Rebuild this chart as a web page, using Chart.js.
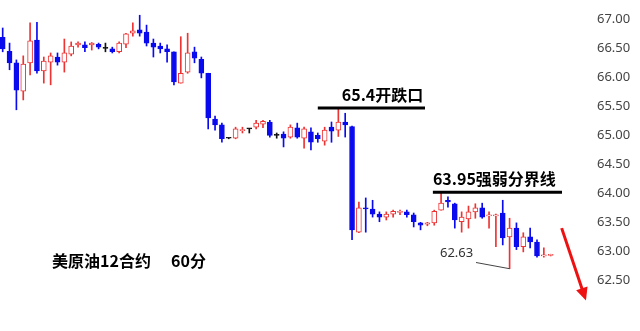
<!DOCTYPE html>
<html>
<head>
<meta charset="utf-8">
<script src="https://cdn.jsdelivr.net/npm/chart.js@4/dist/chart.umd.min.js"></script>
<style>
  html, body { margin: 0; padding: 0; background: #fff; }
</style>
</head>
<body>
<canvas id="myChart" width="640" height="331"></canvas>
<script>
// 60 minute candles
const open = [66.69,66.45,66.25,65.76,66.25,66.64,66.11,66.26,66.35,66.26,66.40,66.56,66.56,66.56,66.57,66.50,66.49,66.44,66.57,66.76,
  66.82,66.78,66.59,66.54,66.49,66.44,65.90,66.09,66.44,66.31,66.07,65.28,65.18,64.95,64.95,65.08,65.11,65.14,65.19,65.23,
  65.00,65.02,64.97,65.13,64.95,65.06,65.00,64.90,65.14,65.09,65.23,65.15,63.33,63.75,63.73,63.64,63.59,63.64,63.67,63.68,
  63.63,63.49,63.47,63.49,63.71,63.88,63.82,63.51,63.56,63.68,63.75,63.61,63.61,63.66,63.25,63.40,63.08,63.25,63.16,62.92,62.93];
const high = [66.85,66.59,66.30,66.37,66.94,66.95,66.35,66.42,66.42,66.66,66.61,66.61,66.61,66.60,66.59,66.59,66.52,66.61,66.76,66.94,
  67.07,66.90,66.66,66.59,66.56,66.44,66.70,66.76,66.52,66.35,66.07,65.33,65.21,64.96,65.14,65.14,65.12,65.26,65.26,65.26,
  65.04,65.06,65.18,65.21,65.14,65.13,65.04,65.14,65.23,65.45,65.38,65.16,63.85,63.92,63.88,63.68,63.68,63.71,63.71,63.71,
  63.66,63.50,63.50,63.71,64.02,63.94,63.83,63.68,63.78,63.82,63.83,63.68,63.64,63.88,63.57,63.49,63.32,63.40,63.20,63.06,62.95];
const low = [66.44,66.13,65.44,65.61,66.04,66.07,65.90,65.87,66.21,66.09,66.37,66.52,66.44,66.47,66.49,66.44,66.42,66.42,66.51,66.71,
  66.71,66.54,66.35,66.42,66.26,65.87,65.90,66.07,66.25,65.99,65.11,65.09,64.88,64.94,64.94,65.04,65.04,65.11,65.13,64.97,
  64.95,64.80,64.95,64.95,64.78,64.75,64.88,64.83,64.88,64.98,64.97,63.20,63.32,63.33,63.59,63.51,63.54,63.59,63.63,63.59,
  63.42,63.37,63.44,63.45,63.71,63.76,63.40,63.33,63.40,63.57,63.57,63.40,63.08,63.11,62.70,63.03,62.99,63.06,62.90,62.90,62.92];
const close = [66.49,66.25,65.78,66.23,66.63,66.11,66.28,66.37,66.26,66.42,66.54,66.59,66.51,66.59,66.52,66.50,66.44,66.59,66.75,66.80,
  66.76,66.59,66.52,66.49,66.44,65.92,66.07,66.42,66.33,66.07,65.30,65.18,64.94,64.95,65.11,65.10,65.11,65.21,65.24,65.00,
  65.00,64.95,65.14,64.97,65.11,64.88,64.94,65.09,65.07,65.23,65.18,63.37,63.75,63.73,63.64,63.59,63.64,63.69,63.69,63.63,
  63.51,63.45,63.49,63.69,63.83,63.85,63.54,63.59,63.68,63.75,63.59,63.63,63.63,63.23,63.40,63.08,63.25,63.16,62.92,62.94,62.94];
const tickValues = [62.5, 63.0, 63.5, 64.0, 64.5, 65.0, 65.5, 66.0, 66.5, 67.0];

const RED = '#ee3333';
const BLUE = '#0a0aee';

function candleColor(i) {
  if (close[i] > open[i]) return RED;
  if (close[i] < open[i]) return BLUE;
  return '#111';
}

// notes written on the chart
const notes = {
  id: 'notes',
  afterDraw(chart) {
    const ctx = chart.ctx;
    const x = chart.scales.x, y = chart.scales.y;
    ctx.save();
    // 65.4 gap line
    ctx.strokeStyle = '#000';
    ctx.lineWidth = 3;
    ctx.beginPath();
    ctx.moveTo(x.getPixelForValue(46.0), y.getPixelForValue(65.47));
    ctx.lineTo(x.getPixelForValue(61.65), y.getPixelForValue(65.47));
    ctx.stroke();
    // 63.95 line
    ctx.beginPath();
    ctx.moveTo(x.getPixelForValue(62.8), y.getPixelForValue(64.02));
    ctx.lineTo(x.getPixelForValue(81.65), y.getPixelForValue(64.02));
    ctx.stroke();

    ctx.fillStyle = '#000';
    ctx.textBaseline = 'alphabetic';
    ctx.font = 'bold 16px "Noto Sans CJK SC"';
    ctx.fillText('65.4开跌口', x.getPixelForValue(49.5), y.getPixelForValue(65.47) - 7);
    ctx.fillText('63.95强弱分界线', x.getPixelForValue(62.8), y.getPixelForValue(64.02) - 7);

    ctx.font = 'bold 16px "Noto Sans CJK SC"';
    ctx.fillText('美原油12合约', 52, 267);
    ctx.fillText('60分', 171, 267);

    // low marker
    ctx.fillStyle = '#333';
    ctx.font = '13px "Noto Sans"';
    ctx.fillText('62.63', 440, 257);
    ctx.strokeStyle = '#444';
    ctx.lineWidth = 1;
    ctx.beginPath();
    ctx.moveTo(476, 262.5);
    ctx.lineTo(x.getPixelForValue(74), y.getPixelForValue(62.70));
    ctx.stroke();

    // red arrow
    const x0 = x.getPixelForValue(81.6), y0 = y.getPixelForValue(63.40);
    const x1 = x.getPixelForValue(85.15), y1 = y.getPixelForValue(62.15);
    const ang = Math.atan2(y1 - y0, x1 - x0);
    ctx.strokeStyle = '#ee1111';
    ctx.fillStyle = '#ee1111';
    ctx.lineWidth = 3;
    ctx.beginPath();
    ctx.moveTo(x0, y0);
    ctx.lineTo(x1 - 8 * Math.cos(ang), y1 - 8 * Math.sin(ang));
    ctx.stroke();
    ctx.beginPath();
    ctx.moveTo(x1, y1);
    ctx.lineTo(x1 - 13 * Math.cos(ang) + 6 * Math.sin(ang), y1 - 13 * Math.sin(ang) - 6 * Math.cos(ang));
    ctx.lineTo(x1 - 13 * Math.cos(ang) - 6 * Math.sin(ang), y1 - 13 * Math.sin(ang) + 6 * Math.cos(ang));
    ctx.closePath();
    ctx.fill();
    ctx.restore();
  }
};

const ctx = document.getElementById('myChart');
const myChart = new Chart(ctx, {
  type: 'bar',
  data: {
    datasets: [{
      // bodies, drawn on top of the wicks
      label: 'body',
      data: open.map((o, i) => ({ x: i, y: [o, close[i]] })),
      backgroundColor: open.map((o, i) => close[i] > o ? '#ffffff' : candleColor(i)),
      borderColor: open.map((o, i) => candleColor(i)),
      borderWidth: 1,
      borderSkipped: false,
      barThickness: 5,
      minBarLength: 1,
      grouped: false
    }, {
      label: 'wick',
      data: low.map((l, i) => ({ x: i, y: [l, high[i]] })),
      backgroundColor: low.map((l, i) => candleColor(i)),
      borderWidth: 0,
      barThickness: 1,
      minBarLength: 1,
      grouped: false
    }]
  },
  options: {
    responsive: false,
    animation: false,
    layout: { padding: { top: 8, bottom: 33, left: 0, right: 8 } },
    plugins: { legend: { display: false }, tooltip: { enabled: false } },
    scales: {
      x: {
        type: 'linear',
        display: false,
        offset: false,
        min: -0.394,
        max: 86.76
      },
      y: {
        position: 'right',
        min: 62.195,
        max: 67.195,
        grid: { display: false, drawTicks: false },
        border: { display: false },
        afterBuildTicks: s => { s.ticks = tickValues.map(v => ({ value: v })); },
        afterFit: s => { s.width = 35; },
        ticks: {
          padding: 0,
          color: '#444',
          font: { family: 'Noto Sans', size: 13 },
          callback: v => Number(v).toFixed(2)
        }
      }
    }
  },
  plugins: [notes]
});
</script>
</body>
</html>
